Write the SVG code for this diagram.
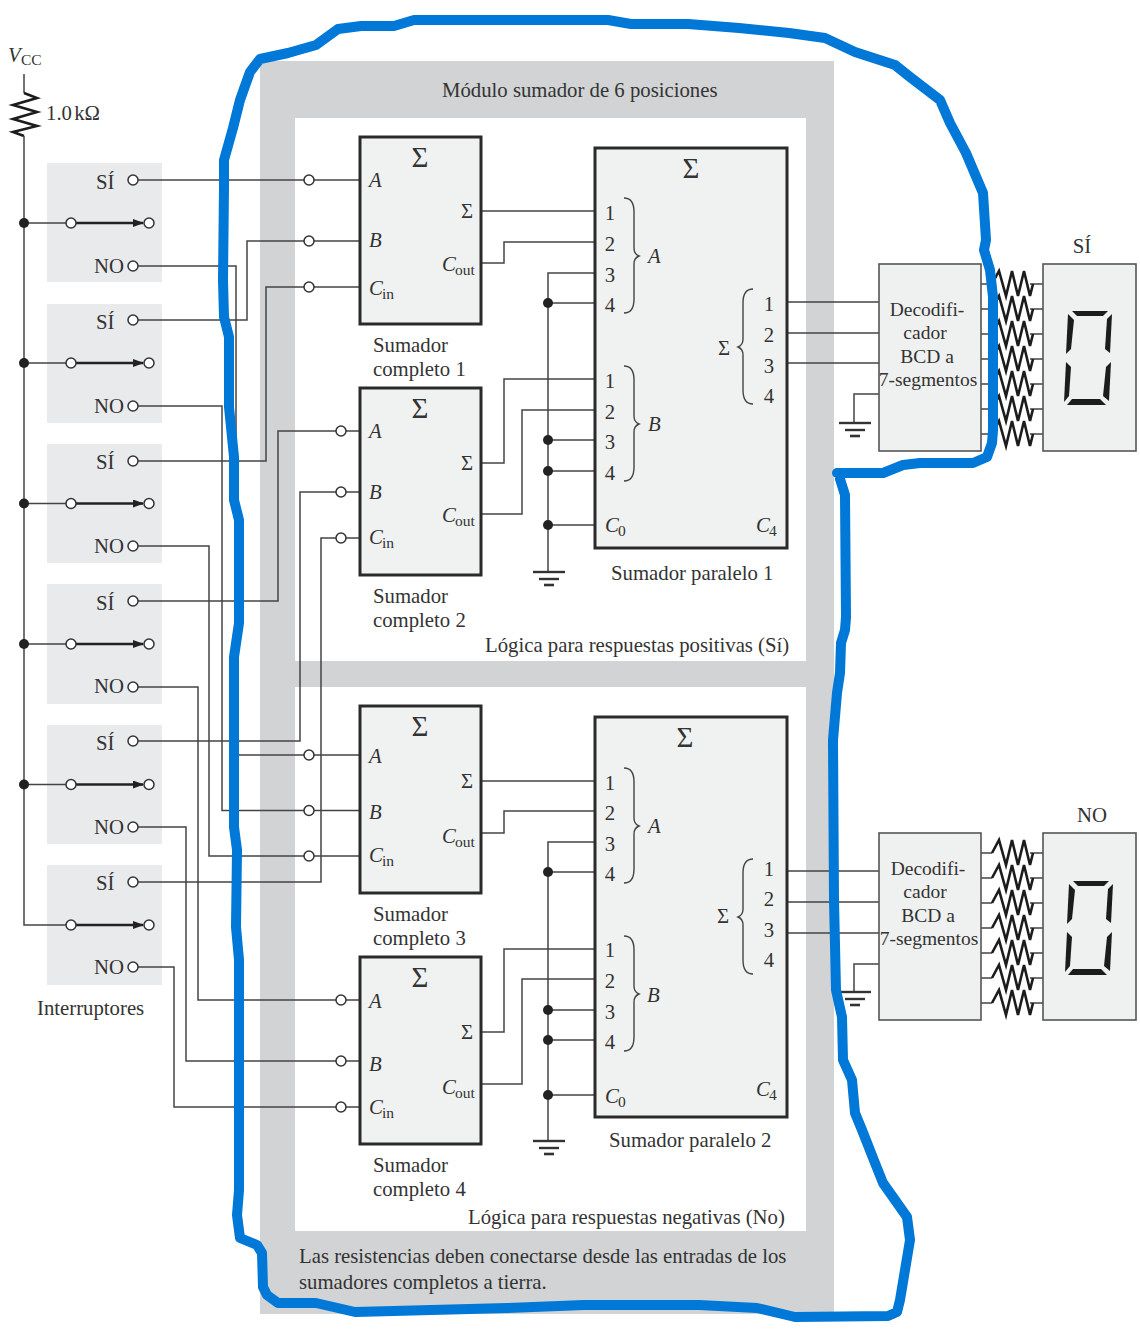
<svg xmlns="http://www.w3.org/2000/svg" width="1140" height="1329" viewBox="0 0 1140 1329">
<style>
text{font-family:"Liberation Serif","Times New Roman",serif;font-size:20.75px;fill:#333}
.i{font-style:italic}
.s{font-size:15.5px}
.d{font-size:19.5px}
.c{text-anchor:middle}
.S{font-size:29px;text-anchor:middle}
.w{fill:none;stroke:#444;stroke-width:1.5}
.box{fill:#f0f2f1;stroke:#2a2a2a;stroke-width:3}
.dec{fill:#eff1f0;stroke:#555;stroke-width:1.6}
.b{fill:none;stroke:#444;stroke-width:1.4}
.seg{fill:#1c1c1c}
.sw{fill:#e9eaec}
.z{fill:none;stroke:#1c1c1c;stroke-width:2.6}
.o{fill:#fff;stroke:#333;stroke-width:1.5}
.k{fill:#222}
.arr{stroke:#222;stroke-width:2.4;marker-end:url(#ah)}
.blue{fill:none;stroke:#0078d7;stroke-width:10;stroke-linejoin:round;stroke-linecap:round}
</style>
<defs>
<circle id="oc" r="5" class="o"/>
<circle id="dot" r="5" class="k"/>
<g id="gnd"><path d="M-16,0H16" stroke="#333" stroke-width="2.4"/><path d="M-10,7H10" stroke="#333" stroke-width="2.4"/><path d="M-5,13H5" stroke="#333" stroke-width="2.6"/></g>
<path id="res" class="z" d="M-11,0 L-4,-13 L3,12 L9,-13 L15,12 L21,-13 L27,12 L30,0"/>
<path id="bR" class="b" d="M0,0 Q10,0 10,14 V50 Q10,56 15,58 Q10,60 10,66 V101 Q10,115 0,115"/>
<path id="bL" class="b" d="M10,0 Q0,0 0,14 V50 Q0,56 -5,58 Q0,60 0,66 V101 Q0,115 10,115"/>
<marker id="ah" markerWidth="11" markerHeight="8" refX="10" refY="4" orient="auto" markerUnits="userSpaceOnUse"><path d="M0,0 L11,4 L0,8Z" fill="#222"/></marker>
<g id="digit">
<polygon class="seg" points="1072,311 1108,311 1103,316 1077,316"/>
<polygon class="seg" points="1068,314 1074,320 1071,349 1066,354"/>
<polygon class="seg" points="1112,314 1110,353 1105,349 1107,319"/>
<polygon class="seg" points="1066,362 1071,367 1069,396 1064,402"/>
<polygon class="seg" points="1111,362 1109,401 1103,396 1106,367"/>
<polygon class="seg" points="1067,405 1106,405 1100,399 1072,399"/>
</g>
</defs>

<rect x="260" y="61" width="574" height="1253" fill="#d1d3d4"/>
<rect x="295" y="118" width="511" height="543" fill="#fff"/>
<rect x="295" y="687" width="511" height="544" fill="#fff"/>
<text x="442" y="97">Módulo sumador de 6 posiciones</text>
<text x="485" y="652">Lógica para respuestas positivas (Sí)</text>
<text x="468" y="1224">Lógica para respuestas negativas (No)</text>
<text x="299" y="1263">Las resistencias deben conectarse desde las entradas de los</text>
<text x="299" y="1289">sumadores completos a tierra.</text>

<g id="switch-bg">
<rect class="sw" x="47" y="163" width="115" height="119"/>
<rect class="sw" x="47" y="304" width="115" height="119"/>
<rect class="sw" x="47" y="444" width="115" height="119"/>
<rect class="sw" x="47" y="584" width="115" height="120"/>
<rect class="sw" x="47" y="725" width="115" height="119"/>
<rect class="sw" x="47" y="865" width="115" height="120"/>
</g>

<g id="connectors">
<path class="w" d="M24,74V93"/>
<path class="z" d="M24,93L37,98 13,105 37,112 13,119 37,126 13,132 24,136"/>
<path class="w" d="M24,136V925H71"/>
<path class="w" d="M24,223H71M24,363H71M24,503.500H71M24,644H71M24,784.500H71"/>
<path class="w" d="M133,180H360"/>
<path class="w" d="M133,320H247V241H360"/>
<path class="w" d="M133,461H266V287H360"/>
<path class="w" d="M133,601H278V431H360"/>
<path class="w" d="M133,741H300V492H360"/>
<path class="w" d="M133,882H321V538H360"/>
<path class="w" d="M133,266H236V755H360"/>
<path class="w" d="M133,406H222V810.500H360"/>
<path class="w" d="M133,546H209V856H360"/>
<path class="w" d="M133,687H198V1000H360"/>
<path class="w" d="M133,827H186V1061H360"/>
<path class="w" d="M133,967H174V1107H360"/>
<path class="w" d="M481,211H595M481,263H504V242H595"/>
<path class="w" d="M481,463H504V379H595M481,514H522V410H595"/>
<path class="w" d="M595,273H548V572M548,303H595M548,440H595M548,471H595M548,525H595"/>
<path class="w" d="M481,781H595M481,833H504V811H595"/>
<path class="w" d="M481,1032H504V949H595M481,1084H522V979H595"/>
<path class="w" d="M595,842H548V1141M548,872H595M548,1010H595M548,1040H595M548,1095H595"/>
<path class="w" d="M787,302H879M787,333H879M787,363H879M879,394H854V422"/>
<path class="w" d="M787,871H879M787,902H879M787,933H879M879,964H854V991"/>
<path class="w" d="M981,284H992M981,309H992M981,334H992M981,359H992M981,384H992M981,409H992M981,434H992"/>
<path class="w" d="M1030,284H1043M1030,309H1043M1030,334H1043M1030,359H1043M1030,384H1043M1030,409H1043M1030,434H1043"/>
<path class="w" d="M981,853H992M981,878H992M981,903H992M981,928H992M981,953H992M981,978H992M981,1003H992"/>
<path class="w" d="M1030,853H1043M1030,878H1043M1030,903H1043M1030,928H1043M1030,953H1043M1030,978H1043M1030,1003H1043"/>
</g>

<g id="vcc">
<text class="i" x="8" y="62">V</text><text class="s" x="21" y="65">CC</text>
<text x="46" y="120" style="word-spacing:-3px">1.0 kΩ</text>
</g>

<g id="switches">
<g id="sw1"><text x="96" y="189">SÍ</text><use href="#oc" x="133" y="180"/><use href="#dot" x="24" y="223"/><path class="arr" d="M76,223H143"/><use href="#oc" x="71" y="223"/><use href="#oc" x="149" y="223"/><text x="94" y="273">NO</text><use href="#oc" x="133" y="266"/></g>
<g id="sw2"><text x="96" y="329">SÍ</text><use href="#oc" x="133" y="320"/><use href="#dot" x="24" y="363"/><path class="arr" d="M76,363H143"/><use href="#oc" x="71" y="363"/><use href="#oc" x="149" y="363"/><text x="94" y="413">NO</text><use href="#oc" x="133" y="406"/></g>
<g id="sw3"><text x="96" y="469">SÍ</text><use href="#oc" x="133" y="461"/><use href="#dot" x="24" y="503.500"/><path class="arr" d="M76,503.500H143"/><use href="#oc" x="71" y="503.500"/><use href="#oc" x="149" y="503.500"/><text x="94" y="553">NO</text><use href="#oc" x="133" y="546"/></g>
<g id="sw4"><text x="96" y="610">SÍ</text><use href="#oc" x="133" y="601"/><use href="#dot" x="24" y="644"/><path class="arr" d="M76,644H143"/><use href="#oc" x="71" y="644"/><use href="#oc" x="149" y="644"/><text x="94" y="693">NO</text><use href="#oc" x="133" y="687"/></g>
<g id="sw5"><text x="96" y="750">SÍ</text><use href="#oc" x="133" y="741"/><use href="#dot" x="24" y="784.500"/><path class="arr" d="M76,784.500H143"/><use href="#oc" x="71" y="784.500"/><use href="#oc" x="149" y="784.500"/><text x="94" y="834">NO</text><use href="#oc" x="133" y="827"/></g>
<g id="sw6"><text x="96" y="890">SÍ</text><use href="#oc" x="133" y="882"/><path class="arr" d="M76,925H143"/><use href="#oc" x="71" y="925"/><use href="#oc" x="149" y="925"/><text x="94" y="974">NO</text><use href="#oc" x="133" y="967"/></g>
<text x="37" y="1015">Interruptores</text>
</g>

<g id="input-pins">
<use href="#oc" x="309" y="180"/><use href="#oc" x="309" y="241"/><use href="#oc" x="309" y="287"/>
<use href="#oc" x="341" y="431"/><use href="#oc" x="341" y="492"/><use href="#oc" x="341" y="538"/>
<use href="#oc" x="309" y="755"/><use href="#oc" x="309" y="810.500"/><use href="#oc" x="309" y="856"/>
<use href="#oc" x="341" y="1000"/><use href="#oc" x="341" y="1061"/><use href="#oc" x="341" y="1107"/>
</g>

<g id="sc1"><rect class="box" x="360" y="137" width="121" height="187"/>
<text class="S" x="420" y="167">Σ</text><text class="i" x="369" y="187">A</text><text class="i" x="369" y="247">B</text><text class="i" x="369" y="295">C</text><text class="s" x="382" y="299">in</text><text class="c" x="467" y="218">Σ</text><text class="i" x="442" y="271">C</text><text class="s" x="455" y="275">out</text>
<text x="373" y="352">Sumador</text><text x="373" y="376">completo 1</text></g>
<g id="sc2"><rect class="box" x="360" y="388" width="121" height="187"/>
<text class="S" x="420" y="418">Σ</text><text class="i" x="369" y="438">A</text><text class="i" x="369" y="499">B</text><text class="i" x="369" y="544">C</text><text class="s" x="382" y="548">in</text><text class="c" x="467" y="470">Σ</text><text class="i" x="442" y="522">C</text><text class="s" x="455" y="526">out</text>
<text x="373" y="603">Sumador</text><text x="373" y="627">completo 2</text></g>
<g id="sc3"><rect class="box" x="360" y="706" width="121" height="187"/>
<text class="S" x="420" y="736">Σ</text><text class="i" x="369" y="763">A</text><text class="i" x="369" y="819">B</text><text class="i" x="369" y="862">C</text><text class="s" x="382" y="866">in</text><text class="c" x="467" y="788">Σ</text><text class="i" x="442" y="843">C</text><text class="s" x="455" y="847">out</text>
<text x="373" y="921">Sumador</text><text x="373" y="945">completo 3</text></g>
<g id="sc4"><rect class="box" x="360" y="957" width="121" height="187"/>
<text class="S" x="420" y="987">Σ</text><text class="i" x="369" y="1008">A</text><text class="i" x="369" y="1071">B</text><text class="i" x="369" y="1114">C</text><text class="s" x="382" y="1118">in</text><text class="c" x="467" y="1039">Σ</text><text class="i" x="442" y="1094">C</text><text class="s" x="455" y="1098">out</text>
<text x="373" y="1172">Sumador</text><text x="373" y="1196">completo 4</text></g>

<g id="pa1"><rect class="box" x="595" y="148" width="192" height="400"/>
<text class="S" x="691" y="178">Σ</text>
<g class="c"><text x="610" y="220">1</text><text x="610" y="251">2</text><text x="610" y="282">3</text><text x="610" y="312">4</text><text x="610" y="388">1</text><text x="610" y="419">2</text><text x="610" y="449">3</text><text x="610" y="480">4</text><text x="769" y="311">1</text><text x="769" y="342">2</text><text x="769" y="373">3</text><text x="769" y="403">4</text></g>
<use href="#bR" x="624" y="198"/><use href="#bR" x="624" y="366"/><use href="#bL" x="743" y="289"/>
<text class="i" x="648" y="263">A</text><text class="i" x="648" y="431">B</text><text class="c" x="724" y="355">Σ</text>
<text class="i" x="605" y="532">C</text><text class="s" x="618" y="536">0</text><text class="i" x="756" y="532">C</text><text class="s" x="769" y="536">4</text>
<text x="611" y="580">Sumador paralelo 1</text></g>

<g id="pa2"><rect class="box" x="595" y="717" width="192" height="400"/>
<text class="S" x="685" y="747">Σ</text>
<g class="c"><text x="610" y="790">1</text><text x="610" y="820">2</text><text x="610" y="851">3</text><text x="610" y="881">4</text><text x="610" y="957">1</text><text x="610" y="988">2</text><text x="610" y="1019">3</text><text x="610" y="1049">4</text><text x="769" y="876">1</text><text x="769" y="906">2</text><text x="769" y="937">3</text><text x="769" y="967">4</text></g>
<use href="#bR" x="624" y="768"/><use href="#bR" x="624" y="936"/><use href="#bL" x="743" y="859"/>
<text class="i" x="648" y="833">A</text><text class="i" x="647" y="1002">B</text><text class="c" x="723" y="923">Σ</text>
<text class="i" x="605" y="1103">C</text><text class="s" x="618" y="1107">0</text><text class="i" x="756" y="1096">C</text><text class="s" x="769" y="1100">4</text>
<text x="609" y="1147">Sumador paralelo 2</text></g>

<g id="junctions">
<use href="#dot" x="548" y="303"/><use href="#dot" x="548" y="440"/><use href="#dot" x="548" y="471"/><use href="#dot" x="548" y="525"/>
<use href="#dot" x="548" y="872"/><use href="#dot" x="548" y="1010"/><use href="#dot" x="548" y="1040"/><use href="#dot" x="548" y="1095"/>
<use href="#gnd" x="549" y="572"/><use href="#gnd" x="549" y="1141"/><use href="#gnd" x="855" y="423"/><use href="#gnd" x="855" y="992"/>
</g>

<g id="dec1"><rect class="dec" x="879" y="264" width="102" height="187"/>
<g class="c"><text class="d" x="927" y="316">Decodifi-</text><text class="d" x="925" y="339">cador</text><text class="d" x="927" y="363">BCD a</text><text class="d" x="928" y="386">7-segmentos</text></g></g>
<g id="dec2"><rect class="dec" x="879" y="833" width="102" height="187"/>
<g class="c"><text class="d" x="928" y="875">Decodifi-</text><text class="d" x="925" y="898">cador</text><text class="d" x="928" y="922">BCD a</text><text class="d" x="929" y="945">7-segmentos</text></g></g>

<g id="res1"><use href="#res" x="1003" y="284"/><use href="#res" x="1003" y="309"/><use href="#res" x="1003" y="334"/><use href="#res" x="1003" y="359"/><use href="#res" x="1003" y="384"/><use href="#res" x="1003" y="409"/><use href="#res" x="1003" y="434"/></g>
<g id="res2"><use href="#res" x="1003" y="853"/><use href="#res" x="1003" y="878"/><use href="#res" x="1003" y="903"/><use href="#res" x="1003" y="928"/><use href="#res" x="1003" y="953"/><use href="#res" x="1003" y="978"/><use href="#res" x="1003" y="1003"/></g>

<g id="disp1"><rect class="dec" x="1043" y="264" width="93" height="187"/><use href="#digit"/><text class="c" x="1082" y="253">SÍ</text></g>
<g id="disp2"><rect class="dec" x="1043" y="833" width="93" height="187"/><use href="#digit" x="1" y="570"/><text class="c" x="1092" y="822">NO</text></g>

<path id="outline" class="blue" d="M840,479 L845,495 L846,617 L845,630 L841,643 L840,673 L837,693 L833,740 L834,900 L836,990 L842,1017 L843,1060 L852,1080 L855,1113 L862,1130 L875,1163 L883,1183 L907,1217 L910,1240 L905,1270 L900,1300 L897,1312 L888,1316 L795,1317 L757,1308 L699,1305 L584,1305 L508,1308 L355,1312 L316,1303 L278,1303 L267,1295 L263,1287 L262,1253 L257,1245 L240,1238 L237,1215 L239,1190 L239,1140 L239,960 L236,927 L237,850 L234,827 L234,700 L234,657 L239,623 L239,520 L234,500 L234,457 L229,407 L229,337 L224,317 L223,280 L224,187 L224,160 L233,128 L240,100 L250,72 L260,59 L288,53 L316,45 L338,29 L361,26 L394,26 L414,20 L608,20 L631,24 L688,24 L739,28 L789,33 L825,38 L855,52 L895,65 L910,77 L940,100 L950,123 L966,153 L983,193 L986,240 L984,250 L990,270 L993,297 L993,430 L992,443 L987,457 L973,463 L920,463 L903,465 L883,473 L837,473"/>
</svg>
